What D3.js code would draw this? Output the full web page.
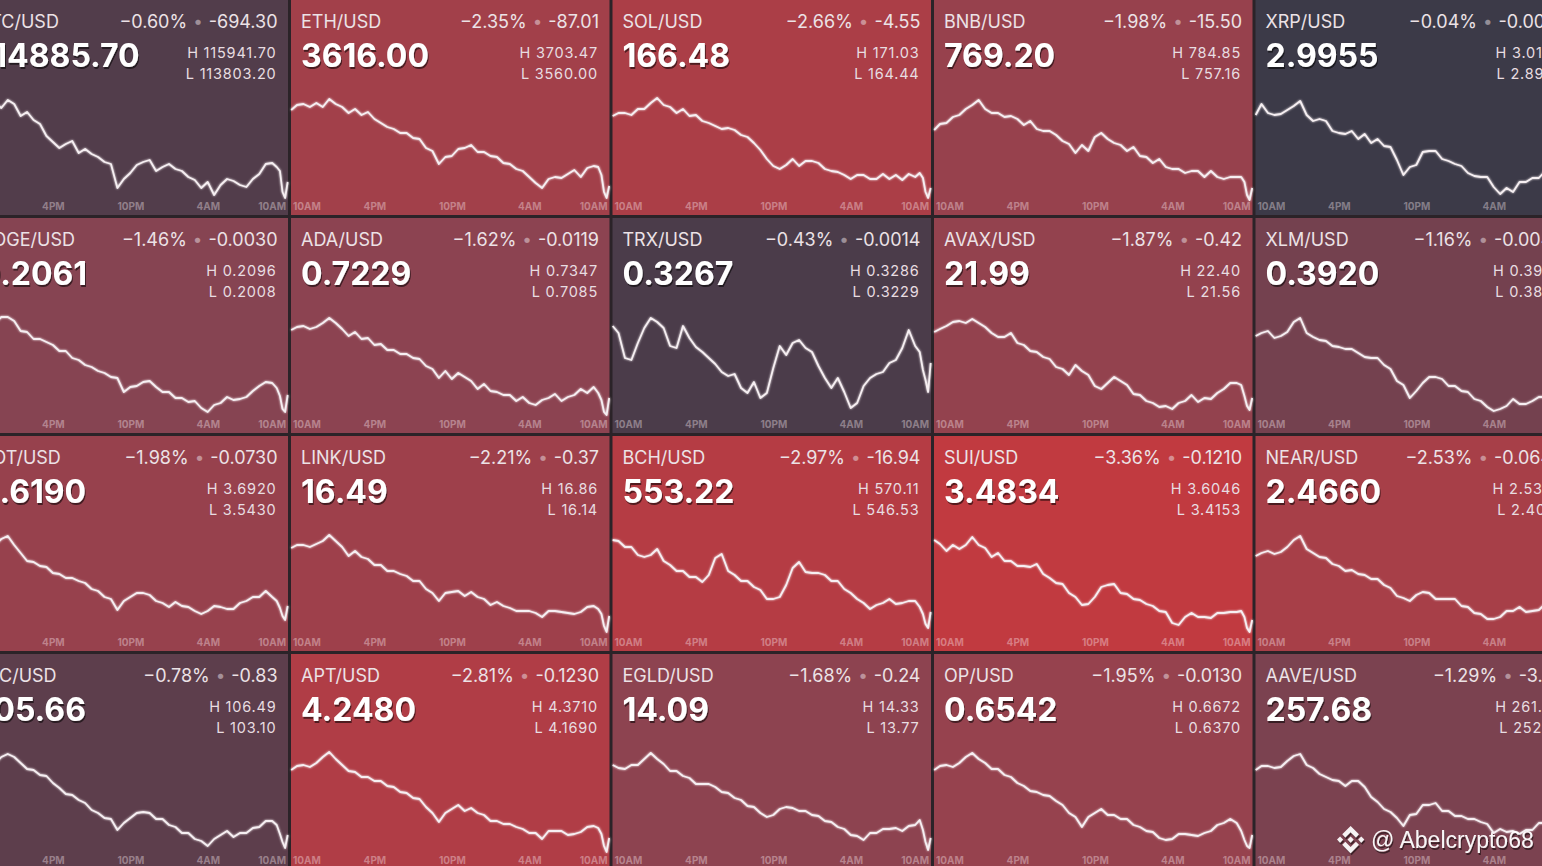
<!DOCTYPE html>
<html><head><meta charset="utf-8">
<script src="https://cdn.jsdelivr.net/npm/d3@7"></script>
<style>
html,body{margin:0;padding:0;background:#2b2328;overflow:hidden;}
svg{display:block;}
</style></head><body>
<svg id="chart" width="1542" height="866"></svg>
<script>
// ---------- data ----------
const symbols = ["BTC/USD","ETH/USD","SOL/USD","BNB/USD","XRP/USD",
  "DOGE/USD","ADA/USD","TRX/USD","AVAX/USD","XLM/USD",
  "DOT/USD","LINK/USD","BCH/USD","SUI/USD","NEAR/USD",
  "LTC/USD","APT/USD","EGLD/USD","OP/USD","AAVE/USD"];
const prices = ["114885.70","3616.00","166.48","769.20","2.9955",
  "0.2061","0.7229","0.3267","21.99","0.3920",
  "3.6190","16.49","553.22","3.4834","2.4660",
  "105.66","4.2480","14.09","0.6542","257.68"];
const pctChanges = [-0.60,-2.35,-2.66,-1.98,-0.04,
  -1.46,-1.62,-0.43,-1.87,-1.16,
  -1.98,-2.21,-2.97,-3.36,-2.53,
  -0.78,-2.81,-1.68,-1.95,-1.29];
const absChanges = ["-694.30","-87.01","-4.55","-15.50","-0.0012",
  "-0.0030","-0.0119","-0.0014","-0.42","-0.0046",
  "-0.0730","-0.37","-16.94","-0.1210","-0.0640",
  "-0.83","-0.1230","-0.24","-0.0130","-3.37"];
const highs = ["115941.70","3703.47","171.03","784.85","3.0142",
  "0.2096","0.7347","0.3286","22.40","0.3985",
  "3.6920","16.86","570.11","3.6046","2.5380",
  "106.49","4.3710","14.33","0.6672","261.45"];
const lows = ["113803.20","3560.00","164.44","757.16","2.8975",
  "0.2008","0.7085","0.3229","21.56","0.3850",
  "3.5430","16.14","546.53","3.4153","2.4010",
  "103.10","4.1690","13.77","0.6370","252.10"];

// sample times (hours after 10AM)
const hours = [-0.45,0,0.5,1,1.5,2,2.5,3,3.5,4,4.5,5,5.5,6,6.5,7,7.5,8,8.5,9,9.5,10,10.5,11,11.5,12,12.5,13,13.5,14,14.5,15,15.5,16,16.5,17,17.5,18,18.5,19,19.5,20,20.5,21,21.5,22,22.5,23,23.35,23.6,23.8,24.0,24.2];
const tickHours = [0,6,12,18,24];
const tickLabels = ["10AM","4PM","10PM","4AM","10AM"];

// relative price level within each sparkline (0 = bottom, 105 = top)
const sBTC  = [88,92,93,91,97,92,100,96,84,88,80,76,64,58,52,56,59,47,51,46,43,38,36,12,21,27,35,38,40,29,33,36,31,29,23,20,12,18,5,15,21,19,15,13,21,26,36,37,33,29,8,2,18];
const sETH  = [90,95,96,93,97,93,101,96,93,87,91,85,88,81,77,73,71,67,67,62,61,52,49,36,43,44,51,52,55,48,48,44,43,37,36,31,29,23,17,12,21,23,22,26,30,23,32,34,33,25,8,2,14];
const sSOL  = [84,87,87,85,91,91,97,102,95,93,87,91,84,85,79,77,74,71,72,70,65,63,57,50,41,34,31,35,41,34,39,39,37,31,29,28,25,21,25,25,21,21,26,21,25,20,26,23,27,22,8,2,12];
const sBNB  = [70,76,77,83,85,91,95,100,91,87,87,83,84,81,75,79,71,69,69,65,59,56,47,55,49,63,67,61,57,55,49,53,44,43,37,41,33,31,31,27,29,29,23,29,23,21,23,23,23,18,5,0,12];
const sXRP  = [85,96,87,85,86,90,94,99,85,79,81,79,69,67,66,69,61,66,57,61,54,53,40,25,33,35,48,49,49,41,39,36,34,27,24,23,23,13,6,12,8,18,18,22,22,29,29,33,27,24,10,5,15];
const sDOGE = [90,93,94,92,95,101,101,97,87,86,79,79,76,73,67,67,60,58,53,51,47,45,41,40,26,31,32,36,37,31,26,26,20,20,16,17,10,6,13,15,21,18,19,21,27,32,36,35,30,22,9,6,23];
const sADA  = [88,91,92,89,91,95,100,95,89,82,86,79,80,73,74,68,68,64,64,60,59,52,49,40,47,39,45,41,37,29,34,27,26,23,23,17,21,15,13,18,20,24,17,21,23,29,25,31,25,18,6,3,20];
const sTRX  = [92,85,60,58,75,90,100,96,90,72,70,92,80,71,66,60,54,46,42,44,30,25,36,20,25,50,72,63,75,78,70,66,52,40,30,40,26,10,15,32,40,44,46,55,58,70,88,72,66,48,38,26,55];
const sAVAX = [86,89,92,96,97,95,99,95,91,85,81,81,85,75,73,67,66,61,59,51,49,43,53,47,43,32,29,35,41,37,33,24,23,17,15,11,12,9,15,17,23,16,20,19,25,29,35,35,33,22,12,8,20];
const sXLM  = [82,85,87,80,82,86,96,100,85,81,78,77,72,71,69,69,65,61,60,60,53,49,37,33,20,27,35,41,41,39,32,32,27,26,19,17,11,7,9,12,19,14,14,17,21,21,25,25,23,16,10,8,20];
const sDOT  = [88,91,91,88,91,97,100,91,83,75,74,70,69,63,62,58,58,55,53,47,45,39,37,26,35,39,43,43,41,35,33,29,34,30,29,25,22,25,30,29,27,27,33,35,39,39,45,39,35,28,20,16,30];
const sLINK = [88,91,91,89,92,95,101,95,89,80,85,79,77,71,71,65,65,62,60,55,55,47,43,35,43,44,45,40,44,39,37,31,34,30,28,25,25,25,23,19,25,25,24,23,22,24,29,30,27,22,10,4,20];
const sBCH  = [96,95,89,89,81,79,81,87,75,71,65,65,59,59,54,61,78,82,65,61,55,55,49,46,37,37,39,51,68,74,64,63,63,61,55,55,47,43,37,33,27,31,33,37,32,33,35,35,29,22,12,8,24];
const sSUI  = [96,92,85,91,87,91,99,91,88,79,83,75,75,70,70,69,72,62,58,53,52,43,39,31,32,39,49,51,52,43,42,37,36,32,30,25,24,13,11,19,23,19,19,18,23,23,24,24,25,19,8,4,16];
const sNEAR = [80,83,85,82,84,89,96,100,87,83,79,78,72,70,65,66,62,61,57,57,51,48,40,38,35,41,44,43,37,37,37,37,30,29,23,22,17,17,19,25,25,29,24,25,26,32,32,33,27,22,16,14,26];
const sLTC  = [85,89,89,87,90,97,100,97,91,85,84,79,78,71,66,60,59,54,51,44,41,36,35,24,31,36,41,42,41,35,35,29,27,21,21,15,13,8,15,19,23,17,21,21,26,27,33,33,29,20,12,6,19];
const sAPT  = [84,88,89,87,91,97,102,95,89,83,82,77,77,73,73,68,67,62,61,56,55,47,41,32,41,45,49,43,46,41,39,33,33,30,30,27,25,21,21,15,23,23,23,19,20,22,27,28,26,20,8,2,16];
const sEGLD = [89,86,85,89,89,95,101,95,90,83,83,78,76,70,70,70,67,62,61,56,54,48,47,41,37,39,45,47,46,43,43,39,38,33,32,27,25,19,18,14,21,21,25,25,26,23,28,29,34,24,12,4,16];
const sOP   = [84,88,89,87,91,97,101,95,91,85,85,79,77,71,68,63,62,59,58,53,49,41,37,27,37,41,45,39,39,35,35,29,27,23,22,16,14,15,20,20,19,18,21,23,29,31,35,31,23,14,8,6,19];
const sAAVE = [84,88,88,86,87,93,98,100,89,86,80,77,74,73,68,73,73,67,57,52,45,42,36,28,39,40,49,49,51,43,43,38,38,35,35,32,30,21,25,22,23,20,24,24,31,31,35,31,27,18,12,10,22];
const seriesList = [sBTC,sETH,sSOL,sBNB,sXRP,sDOGE,sADA,sTRX,sAVAX,sXLM,
  sDOT,sLINK,sBCH,sSUI,sNEAR,sLTC,sAPT,sEGLD,sOP,sAAVE];

// ---------- layout ----------
const COLS = 5;
const originX = -30.5, originY = 0;
const pitchX = 321.5, pitchY = 218;
const tileW = 318.5, tileH = 215;

const svg = d3.select("#chart");
const defs = svg.append("defs");
const glow = defs.append("filter").attr("id","glow")
  .attr("x","-5%").attr("y","-20%").attr("width","110%").attr("height","140%");
glow.append("feGaussianBlur").attr("in","SourceGraphic").attr("stdDeviation",1.1).attr("result","b");
const gm = glow.append("feMerge");
gm.append("feMergeNode").attr("in","b");
gm.append("feMergeNode").attr("in","SourceGraphic");

const shadow = defs.append("filter").attr("id","pshadow")
  .attr("x","-5%").attr("y","-20%").attr("width","115%").attr("height","150%");
shadow.append("feDropShadow").attr("dx",1).attr("dy",2).attr("stdDeviation",0.7)
  .attr("flood-color","#000").attr("flood-opacity",0.55);

const colorScale = d3.scaleLinear()
  .domain([0,-0.6,-1.5,-3.4])
  .range(["#3a3a48","#523d4b","#884452","#c23a40"])
  .clamp(true);

const x = d3.scaleLinear().domain([0,24]).range([6,315.6]);
const y = d3.scaleLinear().domain([0,105]).range([200,95]);
const line = d3.line().x((d,i)=>x(hours[i])).y(d=>y(d));

const FONT = "Inter, 'Noto Sans', sans-serif";

symbols.forEach((sym,i)=>{
  const col = i % COLS, row = Math.floor(i / COLS);
  const g = svg.append("g")
    .attr("transform",`translate(${originX + col*pitchX},${originY + row*pitchY})`);
  g.append("rect").attr("width",tileW).attr("height",tileH)
    .attr("fill",colorScale(pctChanges[i]));

  // time axis labels
  const ax = g.append("g").attr("transform","translate(0,206)")
    .call(d3.axisBottom(x).tickValues(tickHours).tickFormat((d,k)=>tickLabels[k]).tickSize(0).tickPadding(0));
  ax.select(".domain").remove();
  ax.selectAll("text")
    .attr("y",0).attr("dy","0.35em")
    .attr("font-family",FONT).attr("font-size",10).attr("font-weight",700)
    .attr("fill","rgba(255,240,245,0.38)")
    .attr("text-anchor",(d,k)=> k===0 ? "start" : (k===tickHours.length-1 ? "end" : "middle"))
    .attr("dx",(d,k)=> k===0 ? -4.5 : (k===tickHours.length-1 ? 0.5 : 0));

  // sparkline
  g.append("path").datum(seriesList[i])
    .attr("d",line).attr("fill","none")
    .attr("stroke","#f6eff2").attr("stroke-width",1.8)
    .attr("stroke-linejoin","round").attr("filter","url(#glow)");

  // header
  g.append("text").attr("x",10).attr("y",28)
    .attr("font-family",FONT).attr("font-size",18).attr("font-weight",400)
    .attr("fill","#ece2e6").text(sym);
  const hdr = g.append("text").attr("x",308).attr("y",28).attr("text-anchor","end")
    .attr("font-family",FONT).attr("font-size",18).attr("font-weight",400)
    .attr("fill","#ece2e6");
  hdr.append("tspan").text(d3.format(".2f")(pctChanges[i]) + "%");
  hdr.append("tspan").attr("dx",6).attr("dy",-1).attr("font-size",17).attr("fill-opacity",0.5).text("\u2022");
  hdr.append("tspan").attr("dx",6).attr("dy",1).text(absChanges[i]);

  // price
  g.append("text").attr("x",10).attr("y",67)
    .attr("font-family",FONT).attr("font-size",32).attr("font-weight",700)
    .attr("fill","#ffffff").attr("filter","url(#pshadow)").text(prices[i]);

  // high / low
  g.append("text").attr("x",307).attr("y",57.5).attr("text-anchor","end")
    .attr("font-family",FONT).attr("font-size",14.5).attr("letter-spacing",0.8)
    .attr("fill","#e8dde1").text("H " + highs[i]);
  g.append("text").attr("x",307).attr("y",79).attr("text-anchor","end")
    .attr("font-family",FONT).attr("font-size",14.5).attr("letter-spacing",0.8)
    .attr("fill","#e8dde1").text("L  " + lows[i]);
});

// watermark
const wm = svg.append("g").attr("filter","url(#pshadow)");
wm.append("path")
  .attr("transform","translate(1337,826) scale(0.215)")
  .attr("fill","#ffffff").attr("fill-opacity",0.92)
  .attr("d","M38.73 53.2l24.59-24.58 24.6 24.6 14.3-14.31L63.32 0 24.42 38.9l14.31 14.3zM0 63.31l14.3-14.31 14.31 14.31-14.31 14.3L0 63.31zm38.73 10.11l24.59 24.59 24.6-24.6 14.31 14.29-38.9 38.91-38.91-38.88-.02-.02 14.33-14.29zm59.77-10.1l14.3-14.31 14.31 14.3-14.31 14.32-14.3-14.31zM77.83 63.3L63.32 48.78 52.59 59.51l-1.24 1.23-2.54 2.54-.02.02.02.02 14.51 14.5 14.51-14.52.01-.01-.01-.01z");
wm.append("text").attr("x",1371).attr("y",848)
  .attr("font-family","'Liberation Sans', Arial, sans-serif").attr("font-size",23)
  .attr("fill","#ffffff").attr("fill-opacity",0.95).text("@ Abelcrypto68");
</script>
</body></html>
